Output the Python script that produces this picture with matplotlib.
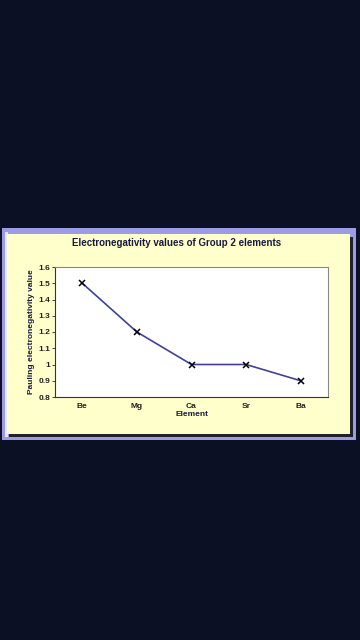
import matplotlib
matplotlib.use("Agg")
import matplotlib.pyplot as plt
from matplotlib.patches import Rectangle

elements = ["Be", "Mg", "Ca", "Sr", "Ba"]
values = [1.5, 1.2, 1.0, 1.0, 0.9]
yticks = [0.8, 0.9, 1.0, 1.1, 1.2, 1.3, 1.4, 1.5, 1.6]
ytick_labels = ["0.8", "0.9", "1", "1.1", "1.2", "1.3", "1.4", "1.5", "1.6"]

W, H = 360, 640
fig = plt.figure(figsize=(3.6, 6.4), dpi=100)
fig.patch.set_facecolor("#0b1024")

def rect(x0, y0, x1, y1, color, z=0):
    fig.patches.append(Rectangle((x0 / W, 1 - y1 / H), (x1 - x0) / W, (y1 - y0) / H,
                                 transform=fig.transFigure, facecolor=color,
                                 edgecolor="none", zorder=z))

rect(2, 228, 356, 440, "#9c9ce6", 0)       # lavender frame
rect(5, 232, 8, 437, "#e8e8ff", 1)         # inner light line
rect(9, 237, 353, 437, "#222222", 1)       # shadow
rect(7, 234, 350, 434, "#ffffcc", 2)       # yellow panel

ax = fig.add_axes([55 / W, 1 - 397 / H, (328 - 55) / W, (397 - 267) / H])
ax.set_zorder(5)
ax.set_facecolor("white")
x = list(range(len(elements)))
ax.plot(x, values, color="#40409e", lw=1.2, marker="x", ms=4.5,
        mec="black", mew=1.1, zorder=3)
ax.set_xlim(-0.5, len(elements) - 0.5)
ax.set_ylim(0.8, 1.6)
ax.set_yticks(yticks)
ax.set_yticklabels(ytick_labels)
ax.set_xticks(x)
ax.set_xticklabels(elements)
for s in ax.spines.values():
    s.set_color("#888888")
    s.set_linewidth(0.8)
ax.spines["left"].set_color("#333333")
ax.spines["bottom"].set_color("#333333")
ax.tick_params(axis="y", length=2, width=0.6, pad=1.5, labelsize=6, colors="#222222")
ax.tick_params(axis="x", length=0, pad=4, labelsize=6, colors="#222222")
for t in ax.get_xticklabels() + ax.get_yticklabels():
    t.set_fontweight("bold")
    t.set_fontfamily("Liberation Sans")
ax.set_xlabel("Element", fontsize=6, fontweight="bold", family="Liberation Sans",
              color="#1a1a40", labelpad=1)
ax.set_ylabel("Pauling electronegativity value", fontsize=6, fontweight="bold",
              family="Liberation Sans", color="#1a1a40", labelpad=2)

fig.text(177 / W, 1 - 243 / H, "Electronegativity values of Group 2 elements",
         ha="center", va="center", fontsize=7, fontweight="bold",
         family="Liberation Sans", color="#1a1a40", zorder=6)

fig.savefig("out.png", dpi=100, facecolor=fig.get_facecolor())
